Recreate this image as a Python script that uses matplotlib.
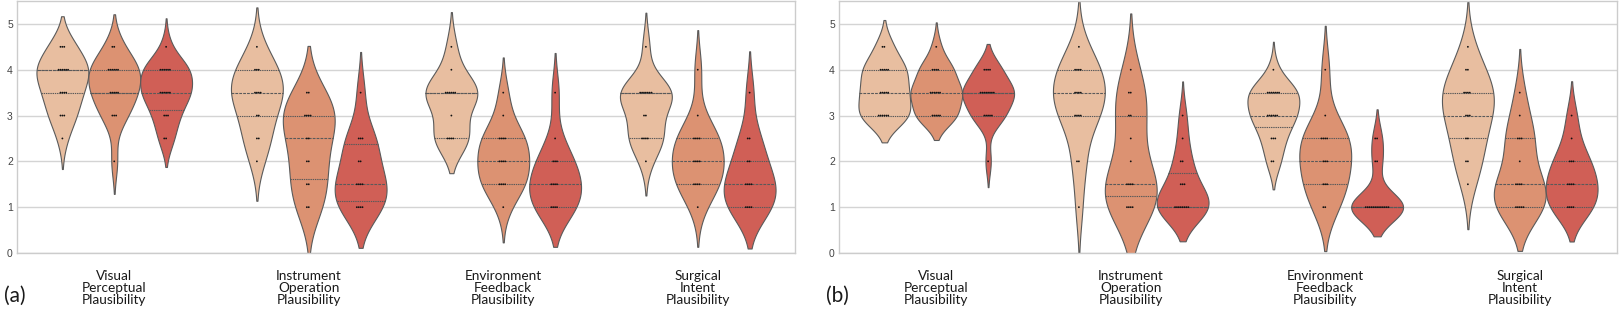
import numpy as np
import pandas as pd
import matplotlib
matplotlib.use("Agg")
import matplotlib.pyplot as plt
import seaborn as sns

# rating scale and the number of ratings at each score
scores = [1.0, 1.5, 2.0, 2.5, 3.0, 3.5, 4.0, 4.5, 5.0]
dimensions = ["Visual\nPerceptual\nPlausibility",
              "Instrument\nOperation\nPlausibility",
              "Environment\nFeedback\nPlausibility",
              "Surgical\nIntent\nPlausibility"]
models = ["M1", "M2", "M3"]
colors = ["#e8bea0", "#dc9272", "#d05f56"]

# panel (a): counts per score, one row per model
a_visual = [[0, 0, 0, 1, 3, 4, 6, 3, 0],
            [0, 0, 1, 0, 3, 5, 6, 2, 0],
            [0, 0, 0, 2, 3, 6, 6, 1, 0]]
a_instrument = [[0, 0, 1, 2, 2, 4, 3, 1, 0],
                [2, 2, 2, 2, 4, 2, 0, 0, 0],
                [4, 4, 2, 3, 0, 1, 0, 0, 0]]
a_environment = [[0, 0, 0, 4, 1, 6, 1, 1, 0],
                 [1, 4, 4, 4, 1, 1, 0, 0, 0],
                 [4, 4, 3, 1, 0, 1, 0, 0, 0]]
a_surgical = [[0, 0, 1, 4, 2, 7, 0, 1, 0],
              [1, 4, 4, 4, 1, 0, 1, 0, 0],
              [4, 4, 2, 2, 0, 1, 0, 0, 0]]

# panel (b)
b_visual = [[0, 0, 0, 0, 6, 5, 5, 2, 0],
            [0, 0, 0, 0, 5, 6, 4, 1, 0],
            [0, 0, 1, 0, 5, 8, 4, 0, 0]]
b_instrument = [[1, 0, 2, 0, 4, 4, 4, 1, 0],
                [4, 4, 1, 1, 2, 2, 1, 0, 0],
                [8, 3, 2, 1, 1, 0, 0, 0, 0]]
b_environment = [[0, 0, 2, 3, 6, 7, 1, 0, 0],
                 [2, 3, 3, 4, 1, 0, 1, 0, 0],
                 [13, 0, 2, 2, 0, 0, 0, 0, 0]]
b_surgical = [[0, 1, 2, 2, 3, 4, 2, 1, 0],
              [5, 4, 1, 3, 1, 1, 0, 0, 0],
              [4, 4, 3, 1, 1, 0, 0, 0, 0]]

panels = {"(a)": [a_visual, a_instrument, a_environment, a_surgical],
          "(b)": [b_visual, b_instrument, b_environment, b_surgical]}


def to_frame(groups):
    rows = []
    for dim, group in zip(dimensions, groups):
        for model, counts in zip(models, group):
            for s, c in zip(scores, counts):
                rows += [(dim, model, s)] * c
    return pd.DataFrame(rows, columns=["dim", "model", "score"])


sns.set_style("whitegrid")
fig = plt.figure(figsize=(16.22, 3.10), dpi=100)
boxes = {"(a)": [17 / 1622, 253 / 310, 778 / 1622, 252 / 310],
         "(b)": [839 / 1622, 253 / 310, 778 / 1622, 252 / 310]}

for tag, groups in panels.items():
    l, b, w, h = boxes[tag]
    ax = fig.add_axes([l, 1 - b, w, h])
    df = to_frame(groups)
    sns.violinplot(data=df, x="dim", y="score", hue="model", order=dimensions,
                   hue_order=models, palette=colors, saturation=1,
                   inner="quart", density_norm="width", cut=2,
                   linewidth=0.8, linecolor="#5a5a5a", legend=False, ax=ax)
    sns.swarmplot(data=df, x="dim", y="score", hue="model", order=dimensions,
                  hue_order=models, dodge=True, palette=["#111111"] * 3,
                  size=1.3, legend=False, ax=ax)
    ax.set_ylim(0, 5.5)
    ax.set_xlim(-0.5, 3.5)
    ax.set_yticks([0, 1, 2, 3, 4, 5])
    ax.set_xlabel("")
    ax.set_ylabel("")
    ax.grid(axis="x", visible=False)
    ax.grid(axis="y", color="#d4d4d4", linewidth=1)
    for sp in ax.spines.values():
        sp.set_color("#cccccc")
        sp.set_linewidth(1)
    ax.tick_params(axis="y", length=0, pad=3, labelsize=7.5, labelcolor="#444444")
    ax.tick_params(axis="x", length=0, pad=12)
    for t in ax.get_yticklabels():
        t.set_family("Liberation Sans")
    ax.set_xticks(range(4))
    ax.set_xticklabels(dimensions, fontsize=9.8, family="Lato",
                       linespacing=1.02, color="#1a1a1a")
    fig.text(l - 13 / 1622, 4 / 310, tag, fontsize=15, family="Lato",
             va="bottom", ha="left", color="#1a1a1a")

fig.savefig("out.png", dpi=100)
